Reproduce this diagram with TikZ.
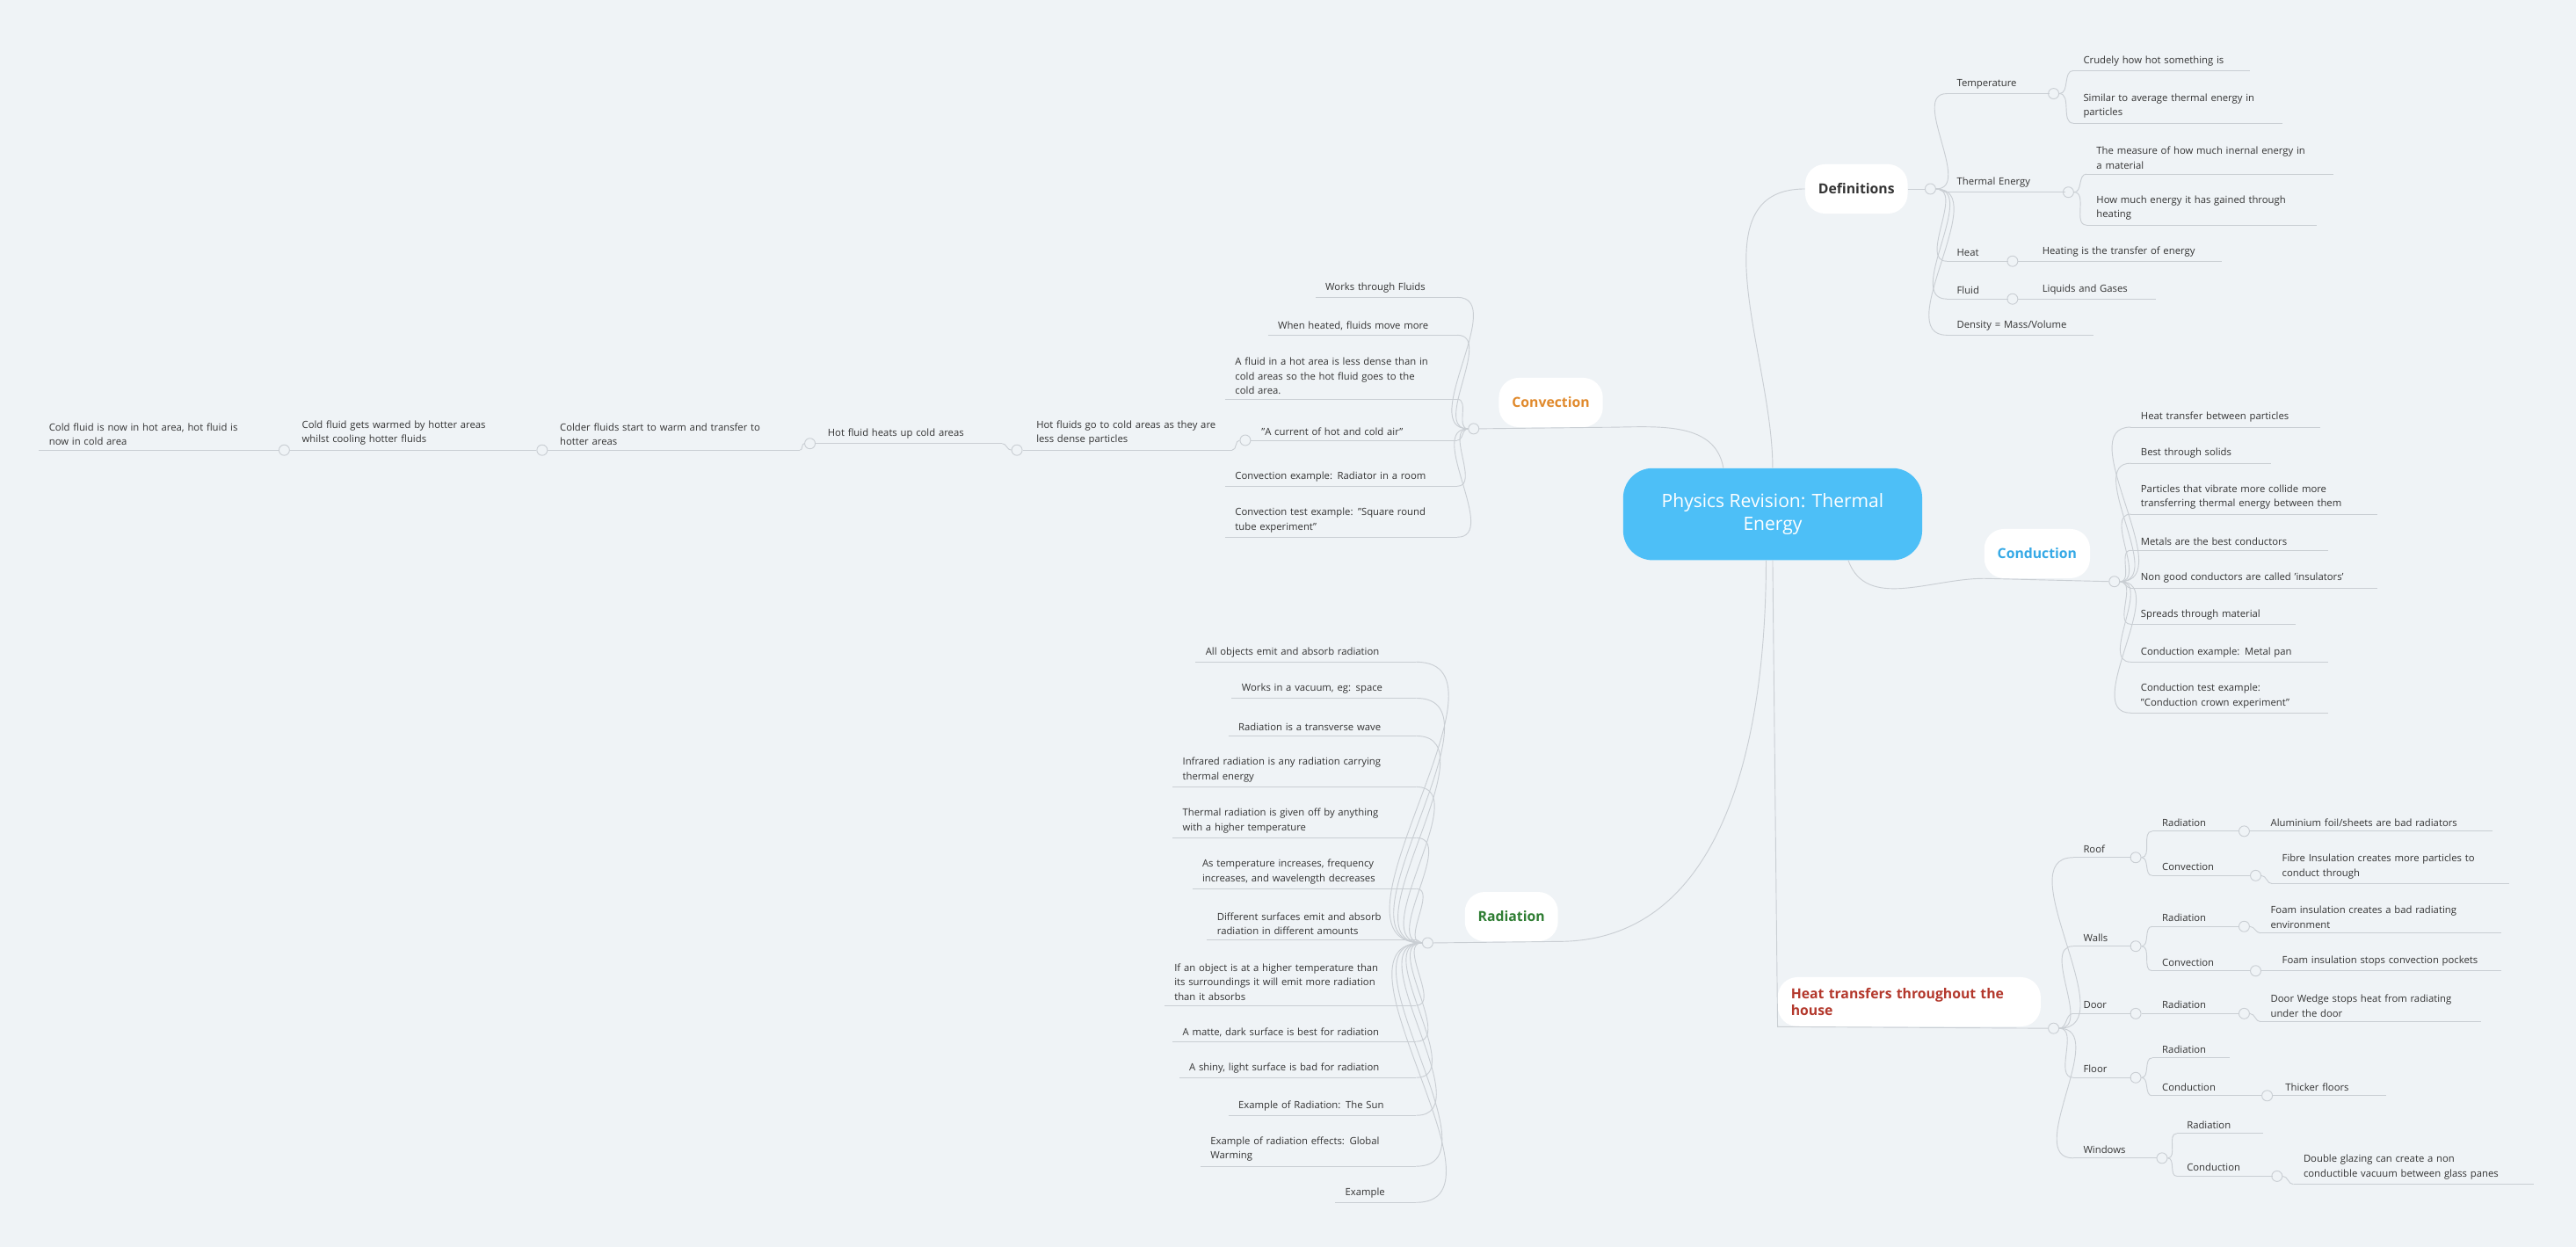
\documentclass[tikz,border=0pt]{standalone}
\usepackage{fontspec}
\setmainfont{Open Sans}
\usepackage{tikz}
\usetikzlibrary{positioning}
\definecolor{bgclr}{HTML}{EFF3F6}
\definecolor{lineclr}{HTML}{C9CED3}
\definecolor{rootclr}{HTML}{4DBFF7}
\definecolor{txtclr}{HTML}{333333}
\definecolor{convclr}{HTML}{E0892B}
\definecolor{condclr}{HTML}{35A9E6}
\definecolor{radclr}{HTML}{2E7D32}
\definecolor{houseclr}{HTML}{B3382C}
\tikzset{
  link/.style={draw=lineclr, line width=0.7pt},
  dot/.style={circle, draw=lineclr, line width=0.7pt, fill=bgclr, inner sep=0pt, minimum size=0.32cm},
  leaf/.style={inner xsep=0.3cm, inner ysep=0.14cm, align=left, text=txtclr,
    font=\fontsize{8.6}{12.6}\selectfont,
    append after command={(\tikzlastnode.south west) edge[link] (\tikzlastnode.south east)}},
  rleaf/.style={leaf, anchor=south west},
  lleaf/.style={leaf, anchor=south east},
  w/.code={\pgfmathsetmacro\lw{#1*0.05-0.5}\edef\x{\noexpand\tikzset{text width=\lw cm}}\x},
  root/.style={fill=rootclr, rounded corners=0.9cm, minimum width=9.1cm, minimum height=2.8cm,
    text=white, align=center, font=\fontsize{16}{20}\selectfont},
  branch/.style={fill=white, rounded corners=0.6cm, minimum height=1.5cm, inner xsep=0.4cm,
    font=\fontsize{12}{15}\selectfont\bfseries}
}
\begin{document}
\begin{tikzpicture}[x=0.05cm, y=-0.05cm]
\fill[bgclr] (0,0) rectangle (1568,759);
\useasboundingbox (0,0) rectangle (1568,759);
% centre and main branches
\node[root] (root) at (1079,313) {Physics Revision: Thermal\\Energy};
\node[branch, text=txtclr] (def) at (1130,115) {Definitions};
\node[branch, text=convclr] (conv) at (944,245) {Convection};
\node[branch, text=condclr] (cond) at (1240,337) {Conduction};
\node[branch, text=radclr] (rad) at (920,558) {Radiation};
\node[branch, text=houseclr, anchor=south west, align=left, text width=7.2cm] (house) at (1082,625) {Heat transfers throughout the\\house};
\node[dot] (dDef) at (1175,115) {};
\node[dot] (dConv) at (897,261) {};
\node[dot] (dCond) at (1287,354) {};
\node[dot] (dRad) at (869,574) {};
\node[dot] (dHouse) at (1250,626) {};
\draw[link] (root.north) to[out=90,in=180] (def.west);
\draw[link] (def.east) -- (dDef.west);
\draw[link] ([xshift=-1.5cm]root.north) to[out=100,in=0] (conv.south east) -- (dConv.east);
\draw[link] ([xshift=2.3cm]root.south) to[out=-70,in=180] (cond.south west) -- (dCond.west);
\draw[link] ([xshift=-0.2cm]root.south) to[out=-90,in=0] (rad.south east) -- (dRad.east);
\draw[link] (root.south) -- (house.south west) -- (dHouse.west);

% definitions
\node[rleaf, w=60] (temp) at (1185,57) {Temperature};
\node[rleaf, w=70] (thermal) at (1185,117) {Thermal Energy};
\node[rleaf, w=35] (heat) at (1185,159) {Heat};
\node[rleaf, w=35] (fluid) at (1185,182) {Fluid};
\node[rleaf, w=87] (density) at (1185,204) {Density = Mass/Volume};
\foreach \n in {temp,thermal,heat,fluid,density}
  \draw[link] (dDef.east) to[out=0,in=180] (\n.south west);
\node[dot] (dTemp) at (1250,57) {};
\node[dot] (dThermal) at (1259,117) {};
\node[dot] (dHeat) at (1225,159) {};
\node[dot] (dFluid) at (1225,182) {};
\node[rleaf, w=105] (crude) at (1262,43) {Crudely how hot something is};
\node[rleaf, w=125] (similar) at (1262,75) {Similar to average thermal energy in\\particles};
\node[rleaf, w=148] (measure) at (1270,106) {The measure of how much inernal energy in\\a material};
\node[rleaf, w=138] (gained) at (1270,137) {How much energy it has gained through\\heating};
\node[rleaf, w=113] (transfer) at (1237,159) {Heating is the transfer of energy};
\node[rleaf, w=73] (liquids) at (1237,182) {Liquids and Gases};
\draw[link] (temp.south east) -- (dTemp.west);
\draw[link] (thermal.south east) -- (dThermal.west);
\draw[link] (heat.south east) -- (dHeat.west);
\draw[link] (fluid.south east) -- (dFluid.west);
\draw[link] (dTemp.east) to[out=0,in=180] (crude.south west);
\draw[link] (dTemp.east) to[out=0,in=180] (similar.south west);
\draw[link] (dThermal.east) to[out=0,in=180] (measure.south west);
\draw[link] (dThermal.east) to[out=0,in=180] (gained.south west);
\draw[link] (dHeat.east) -- (transfer.south west);
\draw[link] (dFluid.east) -- (liquids.south west);

% convection
\node[lleaf, w=84] (works) at (887,181) {Works through Fluids};
\node[lleaf, w=113] (heated) at (887,204) {When heated, fluids move more};
\node[lleaf, w=139] (dense) at (887,243) {A fluid in a hot area is less dense than in\\cold areas so the hot fluid goes to the\\cold area.};
\node[lleaf, w=123] (current) at (887,268) {"A current of hot and cold air"};
\node[lleaf, w=139] (radiator) at (887,296) {Convection example: Radiator in a room};
\node[lleaf, w=139] (tube) at (887,327) {Convection test example: "Square round\\tube experiment"};
\foreach \n in {works,heated,dense,current,radiator,tube}
  \draw[link] (dConv.west) to[out=180,in=0] (\n.south east);
\node[dot] (dCurrent) at (758,268) {};
\node[lleaf, w=123] (hotfluids) at (750,274) {Hot fluids go to cold areas as they are\\less dense particles};
\node[dot] (dHotfluids) at (619,274) {};
\node[lleaf, w=110] (heats) at (610,270) {Hot fluid heats up cold areas};
\node[dot] (dHeats) at (493,270) {};
\node[lleaf, w=150] (colder) at (487,274) {Colder fluids start to warm and transfer to\\hotter areas};
\node[dot] (dColder) at (330,274) {};
\node[lleaf, w=142] (warmed) at (322,274) {Cold fluid gets warmed by hotter areas\\whilst cooling hotter fluids};
\node[dot] (dWarmed) at (173,274) {};
\node[lleaf, w=140] (nowhot) at (166,274) {Cold fluid is now in hot area, hot fluid is\\now in cold area};
\draw[link] (current.south west) -- (dCurrent.east);
\draw[link] (dCurrent.west) to[out=180,in=0] (hotfluids.south east);
\draw[link] (hotfluids.south west) -- (dHotfluids.east);
\draw[link] (dHotfluids.west) to[out=180,in=0] (heats.south east);
\draw[link] (heats.south west) -- (dHeats.east);
\draw[link] (dHeats.west) to[out=180,in=0] (colder.south east);
\draw[link] (colder.south west) -- (dColder.east);
\draw[link] (dColder.west) -- (warmed.south east);
\draw[link] (warmed.south west) -- (dWarmed.east);
\draw[link] (dWarmed.west) -- (nowhot.south east);

% conduction
\node[rleaf, w=113] (between) at (1297,260) {Heat transfer between particles};
\node[rleaf, w=83] (solids) at (1297,282) {Best through solids};
\node[rleaf, w=148] (vibrate) at (1297,313) {Particles that vibrate more collide more\\transferring thermal energy between them};
\node[rleaf, w=118] (metals) at (1297,335) {Metals are the best conductors};
\node[rleaf, w=148] (insul) at (1297,358) {Non good conductors are called 'insulators'};
\node[rleaf, w=98] (spreads) at (1297,380) {Spreads through material};
\node[rleaf, w=118] (pan) at (1297,403) {Conduction example: Metal pan};
\node[rleaf, w=118] (crown) at (1297,434) {Conduction test example:\\"Conduction crown experiment"};
\foreach \n in {between,solids,vibrate,metals,insul,spreads,pan,crown}
  \draw[link] (dCond.east) to[out=0,in=180] (\n.south west);

% radiation
\node[lleaf, w=132] (allobj) at (862,403) {All objects emit and absorb radiation};
\node[lleaf, w=110] (vacuum) at (862,425) {Works in a vacuum, eg: space};
\node[lleaf, w=112] (wave) at (862,448) {Radiation is a transverse wave};
\node[lleaf, w=146] (infra) at (862,479) {Infrared radiation is any radiation carrying\\thermal energy};
\node[lleaf, w=146] (givenoff) at (862,510) {Thermal radiation is given off by anything\\with a higher temperature};
\node[lleaf, w=134] (freq) at (862,541) {As temperature increases, frequency\\increases, and wavelength decreases};
\node[lleaf, w=125] (surfaces) at (862,572) {Different surfaces emit and absorb\\radiation in different amounts};
\node[lleaf, w=151] (higher) at (862,612) {If an object is at a higher temperature than\\its surroundings it will emit more radiation\\than it absorbs};
\node[lleaf, w=146] (matte) at (862,634) {A matte, dark surface is best for radiation};
\node[lleaf, w=142] (shiny) at (862,656) {A shiny, light surface is bad for radiation};
\node[lleaf, w=112] (sun) at (862,679) {Example of Radiation: The Sun};
\node[lleaf, w=129] (global) at (862,710) {Example of radiation effects: Global\\Warming};
\node[lleaf, w=47] (example) at (862,732) {Example};
\foreach \n in {allobj,vacuum,wave,infra,givenoff,freq,surfaces,higher,matte,shiny,sun,global,example}
  \draw[link] (dRad.west) to[out=180,in=0] (\n.south east);

% house
\node[rleaf, w=33] (roof) at (1262,522) {Roof};
\node[rleaf, w=33] (walls) at (1262,576) {Walls};
\node[rleaf, w=33] (door) at (1262,617) {Door};
\node[rleaf, w=33] (floor) at (1262,656) {Floor};
\node[rleaf, w=48] (windows) at (1262,705) {Windows};
\foreach \n in {roof,walls,door,floor,windows}
  \draw[link] (dHouse.east) to[out=0,in=180] (\n.south west);
\node[dot] (dRoof) at (1300,522) {};
\node[dot] (dWalls) at (1300,576) {};
\node[dot] (dDoor) at (1300,617) {};
\node[dot] (dFloor) at (1300,656) {};
\node[dot] (dWindows) at (1316,705) {};
\foreach \n/\d in {roof/dRoof,walls/dWalls,door/dDoor,floor/dFloor,windows/dWindows}
  \draw[link] (\n.south east) -- (\d.west);
\node[rleaf, w=50] (roofRad) at (1310,506) {Radiation};
\node[rleaf, w=52] (roofConv) at (1310,533) {Convection};
\node[rleaf, w=50] (wallsRad) at (1310,564) {Radiation};
\node[rleaf, w=52] (wallsConv) at (1310,591) {Convection};
\node[rleaf, w=50] (doorRad) at (1310,617) {Radiation};
\node[rleaf, w=45] (floorRad) at (1310,644) {Radiation};
\node[rleaf, w=60] (floorCond) at (1310,667) {Conduction};
\node[rleaf, w=50] (winRad) at (1325,690) {Radiation};
\node[rleaf, w=56] (winCond) at (1325,716) {Conduction};
\foreach \d/\n in {dRoof/roofRad,dRoof/roofConv,dWalls/wallsRad,dWalls/wallsConv,dDoor/doorRad,dFloor/floorRad,dFloor/floorCond,dWindows/winRad,dWindows/winCond}
  \draw[link] (\d.east) to[out=0,in=180] (\n.south west);
\node[dot] (dRoofRad) at (1366,506) {};
\node[dot] (dRoofConv) at (1373,533) {};
\node[dot] (dWallsRad) at (1366,564) {};
\node[dot] (dWallsConv) at (1373,591) {};
\node[dot] (dDoorRad) at (1366,617) {};
\node[dot] (dFloorCond) at (1380,667) {};
\node[dot] (dWinCond) at (1386,716) {};
\foreach \n/\d in {roofRad/dRoofRad,roofConv/dRoofConv,wallsRad/dWallsRad,wallsConv/dWallsConv,doorRad/dDoorRad,floorCond/dFloorCond,winCond/dWinCond}
  \draw[link] (\n.south east) -- (\d.west);
\node[rleaf, w=139] (foil) at (1376,506) {Aluminium foil/sheets are bad radiators};
\node[rleaf, w=142] (fibre) at (1383,538) {Fibre Insulation creates more particles to\\conduct through};
\node[rleaf, w=144] (foamRad) at (1376,568) {Foam insulation creates a bad radiating\\environment};
\node[rleaf, w=137] (foamConv) at (1383,591) {Foam insulation stops convection pockets};
\node[rleaf, w=132] (wedge) at (1376,622) {Door Wedge stops heat from radiating\\under the door};
\node[rleaf, w=65] (thicker) at (1385,667) {Thicker floors};
\node[rleaf, w=144] (glazing) at (1396,721) {Double glazing can create a non\\conductible vacuum between glass panes};
\foreach \d/\n in {dRoofRad/foil,dRoofConv/fibre,dWallsRad/foamRad,dWallsConv/foamConv,dDoorRad/wedge,dFloorCond/thicker,dWinCond/glazing}
  \draw[link] (\d.east) to[out=0,in=180] (\n.south west);
\end{tikzpicture}
\end{document}
